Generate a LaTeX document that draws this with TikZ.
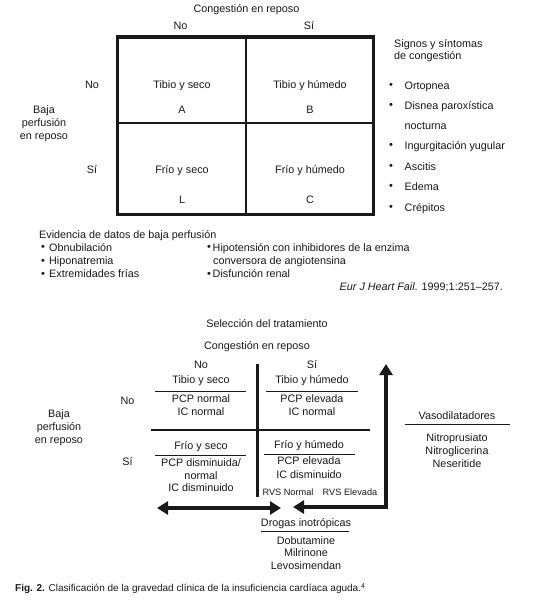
\documentclass[tikz,border=0pt]{standalone}
\usepackage{fontspec}
\setmainfont{Liberation Sans}
\usetikzlibrary{arrows.meta}
\definecolor{ink}{RGB}{25,25,25}
\tikzset{
  txt/.style={inner sep=0pt, text height=8.5pt, text depth=1pt, text=ink, font=\fontsize{10.8}{13}\selectfont},
  small/.style={txt, font=\fontsize{9.2}{11}\selectfont},
  bul/.style={inner sep=0pt, text height=6pt, text depth=0pt, text=ink, font=\fontsize{11}{12}\selectfont},
  outerbox/.style={line width=3.4pt, draw=black!90},
  innerline/.style={line width=2.6pt, draw=black!90},
  rule/.style={line width=1pt, draw=ink},
  bigarrow/.style={line width=4pt, draw=black!90, {Triangle[width=13pt,length=11pt]}-{Triangle[width=13pt,length=11pt]}}
}
\begin{document}
\begin{tikzpicture}[x=1pt,y=-1pt]
\useasboundingbox[fill=white] (0,0) rectangle (533,601);

% ---------- top grid ----------
\node[txt] (ct) at (246.5,9) {Congestión en reposo};
\node[txt] (no1) at (180.5,26) {No};
\node[txt] (si1) at (309,26) {Sí};
\coordinate (tl) at (117.5,37);
\coordinate (br) at (373.5,214.5);
\coordinate (vt) at (246,37);
\coordinate (vb) at (246,214.5);
\coordinate (hl) at (117.5,123);
\coordinate (hr) at (373.5,123);
\draw[innerline] (vt) -- (vb);
\draw[innerline] (hl) -- (hr);
\draw[outerbox] (tl) rectangle (br);

\node[txt] (ta) at (182,85) {Tibio y seco};
\node[txt] (a) at (182,110) {A};
\node[txt] (tb) at (310,85) {Tibio y húmedo};
\node[txt] (b) at (310,110) {B};
\node[txt] (tl2) at (182,170) {Frío y seco};
\node[txt] (l) at (182,200) {L};
\node[txt] (tc) at (310,170) {Frío y húmedo};
\node[txt] (c) at (310,200) {C};

\node[txt] (no2) at (92,85) {No};
\node[txt] (si2) at (92,170) {Sí};
\node[txt] (bj1) at (44,110) {Baja};
\node[txt] (bj2) at (44,123) {perfusión};
\node[txt] (bj3) at (44,136) {en reposo};

\node[txt,anchor=west] (sg1) at (394,44) {Signos y síntomas};
\node[txt,anchor=west] (sg2) at (394,56) {de congestión};
\foreach \y/\t/\n in {86/Ortopnea/s1, 106/Disnea paroxística/s2, 146/Ingurgitación yugular/s4, 167/Ascitis/s5, 187/Edema/s6, 208/Crépitos/s7}{
  \node[bul] (\n b) at (391,\y) {•};
  \node[txt,anchor=west] (\n) at (404.5,\y) {\t};
}
\node[txt,anchor=west] (s3) at (404.5,126) {nocturna};

% ---------- middle text ----------
\node[txt,anchor=west] (ev) at (39,235) {Evidencia de datos de baja perfusión};
\foreach \y/\t/\n in {248/Obnubilación/e1, 261/Hiponatremia/e2, 274/Extremidades frías/e3}{
  \node[bul] (\n b) at (43,\y) {•};
  \node[txt,anchor=west] (\n) at (49,\y) {\t};
}
\node[bul] (f1b) at (209,248) {•};
\node[txt,anchor=west] (f1) at (212.5,248) {Hipotensión con inhibidores de la enzima};
\node[txt,anchor=west] (f2) at (213,261) {conversora de angiotensina};
\node[bul] (f3b) at (209,274) {•};
\node[txt,anchor=west] (f3) at (212.5,274) {Disfunción renal};
\node[txt,anchor=east] (ref) at (503,287) {\textit{Eur J Heart Fail}. 1999;1:251–257.};

% ---------- bottom diagram ----------
\node[txt] (sel) at (267,324) {Selección del tratamiento};
\node[txt] (ct2) at (257,346) {Congestión en reposo};

\node[txt] (q1a) at (201,365) {No};
\node[txt] (q1b) at (201,380) {Tibio y seco};
\coordinate (u1a) at (155,391); \coordinate (u1b) at (246,391);
\draw[rule] (u1a) -- (u1b);
\node[txt] (q1c) at (201,399) {PCP normal};
\node[txt] (q1d) at (201,412) {IC normal};

\node[txt] (q2a) at (312,365) {Sí};
\node[txt] (q2b) at (312,380) {Tibio y húmedo};
\coordinate (u2a) at (266,391); \coordinate (u2b) at (358,391);
\draw[rule] (u2a) -- (u2b);
\node[txt] (q2c) at (312,399) {PCP elevada};
\node[txt] (q2d) at (312,412) {IC normal};

\coordinate (dvt) at (257.5,364); \coordinate (dvb) at (257.5,497);
\draw[line width=2.8pt, draw=black!90] (dvt) -- (dvb);
\coordinate (dhl) at (151,430); \coordinate (dhr) at (370,430);
\draw[line width=2.8pt, draw=black!90] (dhl) -- (dhr);

\node[txt] (no3) at (127.5,401) {No};
\node[txt] (si3) at (127.5,462) {Sí};
\node[txt] (bk1) at (59,414) {Baja};
\node[txt] (bk2) at (59,427) {perfusión};
\node[txt] (bk3) at (59,440) {en reposo};

\node[txt] (q3a) at (201,446) {Frío y seco};
\coordinate (u3a) at (155,455); \coordinate (u3b) at (246,455);
\draw[rule] (u3a) -- (u3b);
\node[txt] (q3b) at (201,463) {PCP disminuida/};
\node[txt] (q3c) at (201,476) {normal};
\node[txt] (q3d) at (201,488) {IC disminuido};

\node[txt] (q4a) at (309,445) {Frío y húmedo};
\coordinate (u4a) at (264,454); \coordinate (u4b) at (355,454);
\draw[rule] (u4a) -- (u4b);
\node[txt] (q4b) at (309,461) {PCP elevada};
\node[txt] (q4c) at (309,475) {IC disminuido};

\node[small] (rvn) at (288,492) {RVS Normal};
\node[small] (rve) at (350,492) {RVS Elevada};

\coordinate (la) at (293,507);
\coordinate (lc) at (386,507);
\coordinate (lt) at (386,364);
\draw[bigarrow, line join=miter] (la) -- (lc) -- (lt);
\coordinate (da) at (157,508);
\coordinate (db) at (281,508);
\draw[bigarrow] (da) -- (db);

\node[txt] (vas) at (457,416) {Vasodilatadores};
\coordinate (v1) at (405,424); \coordinate (v2) at (510,424);
\draw[rule] (v1) -- (v2);
\node[txt] (vn1) at (457,438) {Nitroprusiato};
\node[txt] (vn2) at (457,451) {Nitroglicerina};
\node[txt] (vn3) at (457,464) {Neseritide};

\node[txt] (dro) at (306,523) {Drogas inotrópicas};
\coordinate (w1) at (261,531); \coordinate (w2) at (349,531);
\draw[rule] (w1) -- (w2);
\node[txt] (dr1) at (306,541) {Dobutamine};
\node[txt] (dr2) at (306,553) {Milrinone};
\node[txt] (dr3) at (306,566) {Levosimendan};

\node[txt,anchor=west,font=\fontsize{10}{12}\selectfont] (cap) at (15,588) {\textbf{Fig. 2.} Clasificación de la gravedad clínica de la insuficiencia cardíaca aguda.\textsuperscript{4}};
\end{tikzpicture}
\end{document}
